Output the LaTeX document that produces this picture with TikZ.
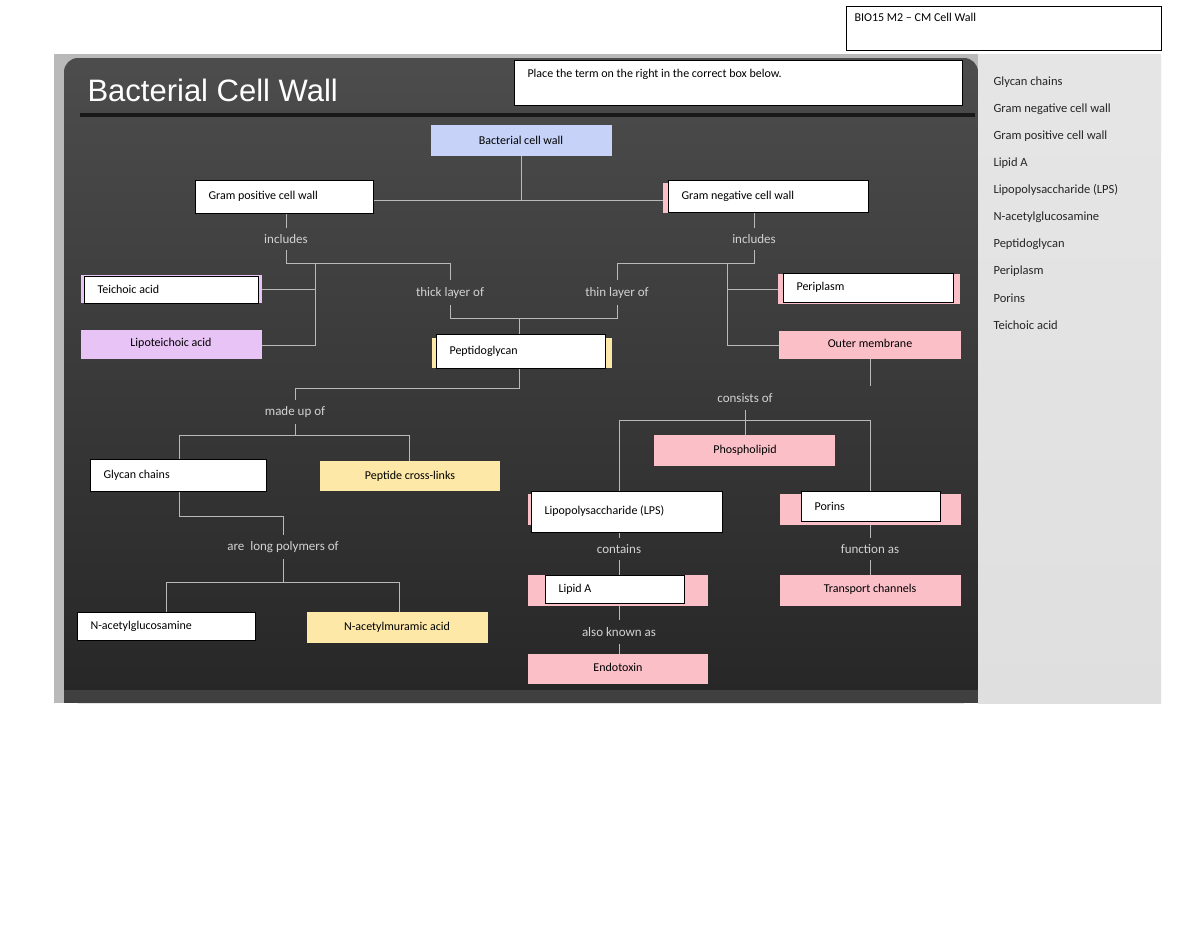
\documentclass[tikz,border=0pt]{standalone}
\usepackage{fontspec}
\setmainfont{Carlito}
\newfontfamily\titlefont{Liberation Sans}
\begin{document}
\begin{tikzpicture}[x=1pt,y=-1pt,
  wbox/.style={draw=black,fill=white,line width=0.8pt,inner sep=0pt,anchor=north west},
  cbox/.style={fill=#1,draw=none,inner sep=0pt,anchor=north west},
  txt/.style={font=\fontsize{12}{14}\selectfont,text=black},
  lbl/.style={font=\fontsize{13}{15}\selectfont,text=gray!35,fill=none,inner sep=1pt},
  ln/.style={draw=gray!55,line width=1pt},
  lst/.style={font=\fontsize{12.5}{15}\selectfont,anchor=west,text=black!85}]
\definecolor{blu}{HTML}{C6D2F8}
\definecolor{lil}{HTML}{E8C3F6}
\definecolor{pnk}{HTML}{FBBFC8}
\definecolor{yel}{HTML}{FDE8A8}
\useasboundingbox (0,0) rectangle (1200,927);
\fill[white] (0,0) rectangle (1200,927);
% header
\draw[black,line width=0.8pt] (846,6) rectangle (1161,50);
\node[anchor=north west,font=\fontsize{12}{14}\selectfont] (hdr) at (851,10) {BIO15 M2 -- CM Cell Wall};
% panels
\fill[gray!55] (54,54) rectangle (978,703);
\shade[top color=black!70,bottom color=black!85,rounded corners=14pt] (64,58) rectangle (978,703);
\fill[black!75] (64,690) rectangle (978,703);
\shade[top color=gray!20,bottom color=gray!25] (978,54) rectangle (1161,703);
\node[anchor=west,text=white,font=\titlefont\fontsize{31}{34}\selectfont] (title) at (84,90) {Bacterial Cell Wall};
\fill[black!90] (80,113) rectangle (975,117);
% instruction
\node[wbox,minimum width=448pt,minimum height=45pt] (ins) at (514,60) {};
\node[anchor=north west,font=\fontsize{12}{14}\selectfont] at (524,66) {Place the term on the right in the correct box below.};
% list
\foreach \t [count=\i] in {Glycan chains,Gram negative cell wall,Gram positive cell wall,Lipid A,Lipopolysaccharide (LPS),N-acetylglucosamine,Peptidoglycan,Periplasm,Porins,Teichoic acid}
  \node[lst] at (990,55+27*\i) {\t};
% connectors
\draw[ln] (521,156) -- (521,200) (373,200) -- (668,200);
\draw[ln] (286,213) -- (286,228) (286,250) -- (286,263) -- (450,263) -- (450,280)
  (315,263) -- (315,345) -- (262,345) (315,289) -- (262,289)
  (450,305) -- (450,318) -- (617,318) -- (617,305) (617,280) -- (617,263) -- (754,263) -- (754,250) (754,213) -- (754,228)
  (519,318) -- (519,334) (727,263) -- (727,345) -- (779,345) (727,289) -- (778,289);
\draw[ln] (519,368) -- (519,388) -- (295,388) -- (295,400) (295,424) -- (295,435)
  (179,435) -- (409,435) (179,435) -- (179,459) (409,435) -- (409,461)
  (179,491) -- (179,516) -- (283,516) -- (283,535) (283,559) -- (283,582) (166,582) -- (399,582) (166,582) -- (166,612) (399,582) -- (399,612);
\draw[ln] (870,359) -- (870,386) (745,410) -- (745,435) (619,420) -- (870,420) (619,420) -- (619,491) (870,420) -- (870,491)
  (619,532) -- (619,538) (619,560) -- (619,575) (619,606) -- (619,620) (619,644) -- (619,654)
  (870,521) -- (870,538) (870,560) -- (870,575);
% labels
\node[lbl] (l1) at (286,239) {includes};
\node[lbl] (l2) at (754,239) {includes};
\node[lbl] (l3) at (450,293) {thick layer of};
\node[lbl] (l4) at (617,293) {thin layer of};
\node[lbl] (l5) at (295,412) {made up of};
\node[lbl] (l6) at (283,547) {are\ \ long polymers of};
\node[lbl] (l7) at (745,398) {consists of};
\node[lbl] (l8) at (619,549) {contains};
\node[lbl] (l9) at (619,632) {also known as};
\node[lbl] (l10) at (870,549) {function as};
% coloured boxes
\node[cbox=blu,minimum width=181pt,minimum height=31pt] (bcw) at (431,125) {};
\node[txt] at (521,140) {Bacterial cell wall};
\node[cbox=pnk,minimum width=205pt,minimum height=30pt] (gnb) at (663,183) {};
\node[cbox=lil,minimum width=181pt,minimum height=28pt] (teb) at (81,275) {};
\node[cbox=lil,minimum width=181pt,minimum height=29pt] (lta) at (81,330) {};
\node[txt] at (171,343) {Lipoteichoic acid};
\node[cbox=yel,minimum width=180pt,minimum height=30pt] (pgb) at (432,338) {};
\node[cbox=pnk,minimum width=182pt,minimum height=30pt] (pzb) at (778,274) {};
\node[cbox=pnk,minimum width=182pt,minimum height=28pt] (om) at (779,331) {};
\node[txt] at (870,343) {Outer membrane};
\node[cbox=yel,minimum width=180pt,minimum height=30pt] (pcl) at (320,461) {};
\node[txt] at (410,476) {Peptide cross-links};
\node[cbox=yel,minimum width=181pt,minimum height=31pt] (nam) at (307,612) {};
\node[txt] at (397,627) {N-acetylmuramic acid};
\node[cbox=pnk,minimum width=181pt,minimum height=31pt] (phl) at (654,435) {};
\node[txt] at (745,450) {Phospholipid};
\node[cbox=pnk,minimum width=180pt,minimum height=31pt] (lpb) at (528,494) {};
\node[cbox=pnk,minimum width=180pt,minimum height=31pt] (lab) at (528,575) {};
\node[cbox=pnk,minimum width=180pt,minimum height=30pt] (endo) at (528,654) {};
\node[txt] at (618,667) {Endotoxin};
\node[cbox=pnk,minimum width=181pt,minimum height=31pt] (porb) at (780,494) {};
\node[cbox=pnk,minimum width=181pt,minimum height=31pt] (tc) at (780,575) {};
\node[txt] at (870,589) {Transport channels};
% white answer boxes
\foreach \nm/\x/\y/\w/\h/\t in {gp/195/180/178/33/Gram positive cell wall, gn/668/180/200/32/Gram negative cell wall, te/84/276/174/27/Teichoic acid, pg/436/334/169/34/Peptidoglycan, pp/783/273/170/29/Periplasm, gc/90/459/176/32/Glycan chains, nag/77/612/178/28/N-acetylglucosamine, lps/531/491/191/41/Lipopolysaccharide (LPS), la/545/575/139/28/Lipid A, por/801/491/139/30/Porins}{
  \node[wbox,minimum width=\w pt,minimum height=\h pt] (\nm) at (\x,\y) {};
  \node[txt,anchor=west] at (\x+10,\y+0.5*\h) {\t};
}
\end{tikzpicture}
\end{document}
